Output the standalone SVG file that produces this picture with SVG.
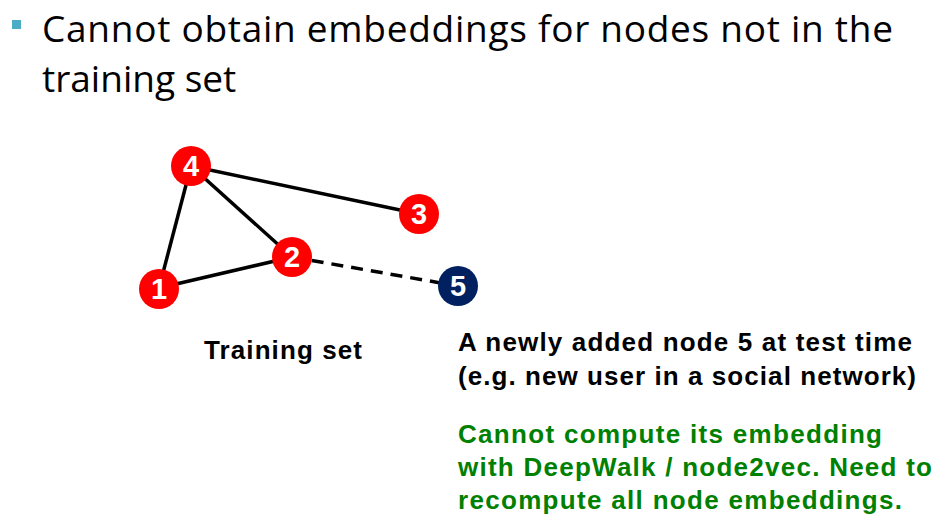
<svg xmlns="http://www.w3.org/2000/svg" width="942" height="523" viewBox="0 0 942 523">
<style>
.t{font-family:"Open Sans","Noto Sans",sans-serif;font-size:37px;fill:#000}
.b{font-family:"Liberation Sans",Arial,sans-serif;font-weight:bold;font-size:26px}
.e{stroke:#000;stroke-width:3.5;fill:none}
.r{fill:#ff0000}
.n{fill:#002060}
.l{font-family:"Liberation Sans",Arial,sans-serif;font-weight:bold;font-size:29px;fill:#fff;text-anchor:middle}
</style>
<rect width="942" height="523" fill="#fff"/>
<rect x="12" y="20" width="9" height="9" fill="#4bacc6"/>
<text class="t" x="42" y="42" textLength="851">Cannot obtain embeddings for nodes not in the</text>
<text class="t" x="42" y="92">training set</text>
<g id="edges">
<line class="e" x1="159" y1="288" x2="191" y2="166"/>
<line class="e" x1="191" y1="166" x2="292" y2="257"/>
<line class="e" x1="191" y1="166" x2="419" y2="214"/>
<line class="e" x1="159" y1="288" x2="292" y2="257"/>
<line class="e" x1="292" y1="257" x2="458" y2="286" stroke-dasharray="12,8"/>
</g>
<g id="n1"><circle class="r" cx="159" cy="289" r="20"/><text class="l" x="159" y="299">1</text></g>
<g id="n2"><circle class="r" cx="292" cy="257" r="20"/><text class="l" x="292" y="267">2</text></g>
<g id="n3"><circle class="r" cx="419" cy="214" r="20"/><text class="l" x="419" y="224">3</text></g>
<g id="n4"><circle class="r" cx="191" cy="166" r="20"/><text class="l" x="191" y="176">4</text></g>
<g id="n5"><circle class="n" cx="458" cy="286" r="20"/><text class="l" x="458" y="296">5</text></g>
<text class="b" x="204" y="359" textLength="158">Training set</text>
<text class="b" x="458" y="351" textLength="454">A newly added node 5 at test time</text>
<text class="b" x="458" y="385" textLength="458">(e.g. new user in a social network)</text>
<g fill="#008000">
<text class="b" x="458" y="443" textLength="424">Cannot compute its embedding</text>
<text class="b" x="458" y="476" textLength="474">with DeepWalk / node2vec. Need to</text>
<text class="b" x="458" y="509" textLength="444">recompute all node embeddings.</text>
</g>
</svg>
